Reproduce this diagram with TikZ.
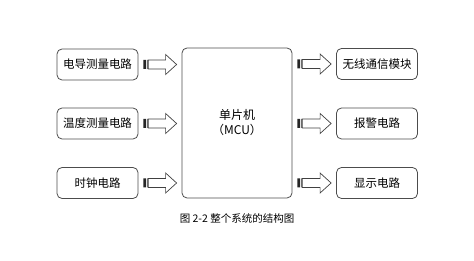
\documentclass[tikz,border=0pt]{standalone}
\usepackage{fontspec}
\setmainfont{Noto Sans CJK SC}
\usetikzlibrary{calc}
\tikzset{
  blk/.style={draw=black!70, line width=0.8pt, rounded corners=5pt, minimum width=81pt, minimum height=31pt, inner sep=0pt, font=\fontsize{11.5}{13}\selectfont},
  mcubox/.style={draw=black!70, line width=0.8pt, rounded corners=5pt, minimum width=110pt, minimum height=150pt, inner sep=0pt, align=center, font=\fontsize{12}{15}\selectfont},
  abody/.style={draw=black!75, line width=0.7pt, fill=white},
  astripe/.style={fill=black!85}
}
\newcommand\stripearrow[2]{%
  \path let \p1=($(#1)+(5pt,0)$), \p2=($(#1 -| #2)+(-5pt,0)$) in
    [astripe] (\x1,\y1-4.5pt) rectangle (\x1+2.5pt,\y1+4.5pt)
    [astripe] (\x1+3.5pt,\y1-4.5pt) rectangle (\x1+4.3pt,\y1+4.5pt);
  \draw[abody] let \p1=($(#1)+(5pt,0)$), \p2=($(#1 -| #2)+(-5pt,0)$) in
    (\x1+4.8pt,\y1+4.5pt) -- (\x2-11pt,\y1+4.5pt) -- (\x2-11pt,\y1+10pt) -- (\x2,\y1)
    -- (\x2-11pt,\y1-10pt) -- (\x2-11pt,\y1-4.5pt) -- (\x1+4.8pt,\y1-4.5pt) -- cycle;
}
\begin{document}
\begin{tikzpicture}[x=1pt,y=-1pt]
\useasboundingbox (0,0) rectangle (474,261);
\node[blk] (l1) at (97.5,64.5) {电导测量电路};
\node[blk] (l2) at (97.5,123.5) {温度测量电路};
\node[blk] (l3) at (97.5,183) {时钟电路};
\node[mcubox] (mcu) at (237,123) {单片机\\（MCU）};
\node[blk] (r1) at (377,64) {无线通信模块};
\node[blk] (r2) at (377,123.5) {报警电路};
\node[blk] (r3) at (377,183) {显示电路};
\node[font=\fontsize{10.5}{12}\selectfont] (cap) at (237,218) {图 2-2 整个系统的结构图};
\stripearrow{l1.east}{mcu.west}
\stripearrow{l2.east}{mcu.west}
\stripearrow{l3.east}{mcu.west}
\stripearrow{mcu.east |- r1.west}{r1.west}
\stripearrow{mcu.east |- r2.west}{r2.west}
\stripearrow{mcu.east |- r3.west}{r3.west}
\end{tikzpicture}
\end{document}
